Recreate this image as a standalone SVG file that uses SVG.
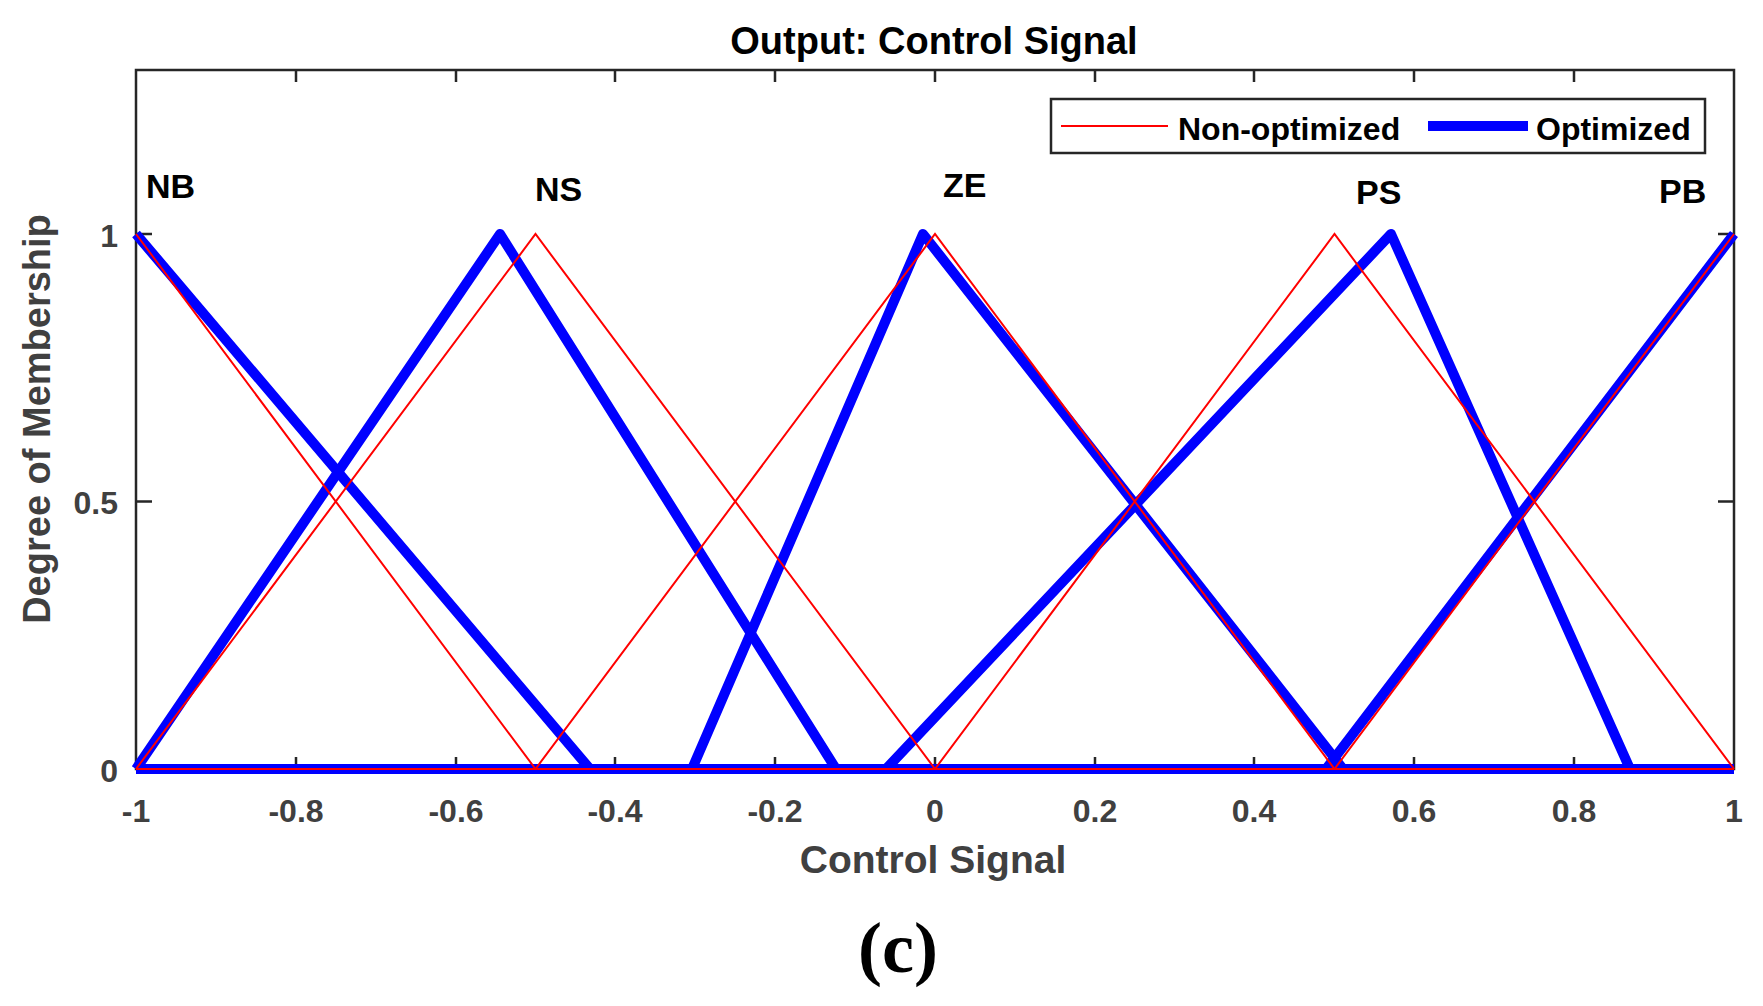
<svg xmlns="http://www.w3.org/2000/svg" width="1763" height="1006" viewBox="0 0 1763 1006">
<style>
.red{fill:none;stroke:#ff0000;stroke-width:2}
.blue{fill:none;stroke:#0000ff;stroke-width:10;stroke-linejoin:round}
.ax{fill:none;stroke:#262626;stroke-width:2.5}
.tk{font-family:"Liberation Sans",Arial,sans-serif;font-weight:bold;font-size:32px;fill:#404040}
.lbl{font-family:"Liberation Sans",Arial,sans-serif;font-weight:bold;font-size:34px;fill:#000}
</style>
<rect width="1763" height="1006" fill="#fff"/>
<text x="934" y="54" text-anchor="middle" class="lbl" style="font-size:38px">Output: Control Signal</text>
<g id="axes">
<rect x="136" y="70" width="1598" height="699" class="ax"/>
<path class="ax" d="M296,769v-12M456,769v-12M615,769v-12M775,769v-12M935,769v-12M1095,769v-12M1254,769v-12M1414,769v-12M1574,769v-12
M296,70v12M456,70v12M615,70v12M775,70v12M935,70v12M1095,70v12M1254,70v12M1414,70v12M1574,70v12
M136,234h16M136,501.5h16M1734,234h-16M1734,501.5h-16"/>
</g>
<g id="xticks" class="tk" text-anchor="middle">
<text x="136" y="822">-1</text><text x="296" y="822">-0.8</text><text x="456" y="822">-0.6</text><text x="615" y="822">-0.4</text><text x="775" y="822">-0.2</text><text x="935" y="822">0</text><text x="1095" y="822">0.2</text><text x="1254" y="822">0.4</text><text x="1414" y="822">0.6</text><text x="1574" y="822">0.8</text><text x="1734" y="822">1</text>
</g>
<g id="yticks" class="tk" text-anchor="end">
<text x="118" y="782">0</text><text x="118" y="514">0.5</text><text x="118" y="247">1</text>
</g>
<text class="tk" style="font-size:39px" x="933" y="873" text-anchor="middle">Control Signal</text>
<text class="tk" style="font-size:38px" transform="translate(50,419) rotate(-90)" text-anchor="middle">Degree of Membership</text>
<g id="curves">
<polyline class="blue" points="136,234 590,769 1734,769"/>
<polyline class="blue" points="136,769 500,234 836,769 1734,769"/>
<polyline class="blue" points="136,769 692,769 923,234 1334.5,758 1343,769 1734,769"/>
<polyline class="blue" points="136,769 886,769 1391,234 1630,769 1734,769"/>
<polyline class="blue" points="136,769 1326,769 1334.5,758 1734,234"/>
<polyline class="red" points="136,234 535.5,769 1734,769"/>
<polyline class="red" points="136,769 535.5,234 935,769 1734,769"/>
<polyline class="red" points="136,769 535.5,769 935,234 1334.5,769 1734,769"/>
<polyline class="red" points="136,769 935,769 1334.5,234 1734,769"/>
<polyline class="red" points="136,769 1334.5,769 1734,234"/>
</g>
<g id="labels" class="lbl">
<text x="146" y="198">NB</text><text x="535" y="201">NS</text><text x="943" y="197">ZE</text><text x="1356" y="204">PS</text><text x="1659" y="203">PB</text>
</g>
<g id="legend">
<rect x="1051" y="99" width="654" height="54" fill="#fff" stroke="#262626" stroke-width="2.5"/>
<line x1="1061" y1="126" x2="1168" y2="126" stroke="#ff0000" stroke-width="2"/>
<text x="1178" y="140" class="lbl" style="font-size:32px">Non-optimized</text>
<line x1="1428" y1="126" x2="1528" y2="126" stroke="#0000ff" stroke-width="10"/>
<text x="1536" y="140" class="lbl" style="font-size:32px">Optimized</text>
</g>
<text x="898" y="972" text-anchor="middle" style="font-family:'Liberation Serif',serif;font-weight:bold;font-size:72px">(c)</text>
</svg>
